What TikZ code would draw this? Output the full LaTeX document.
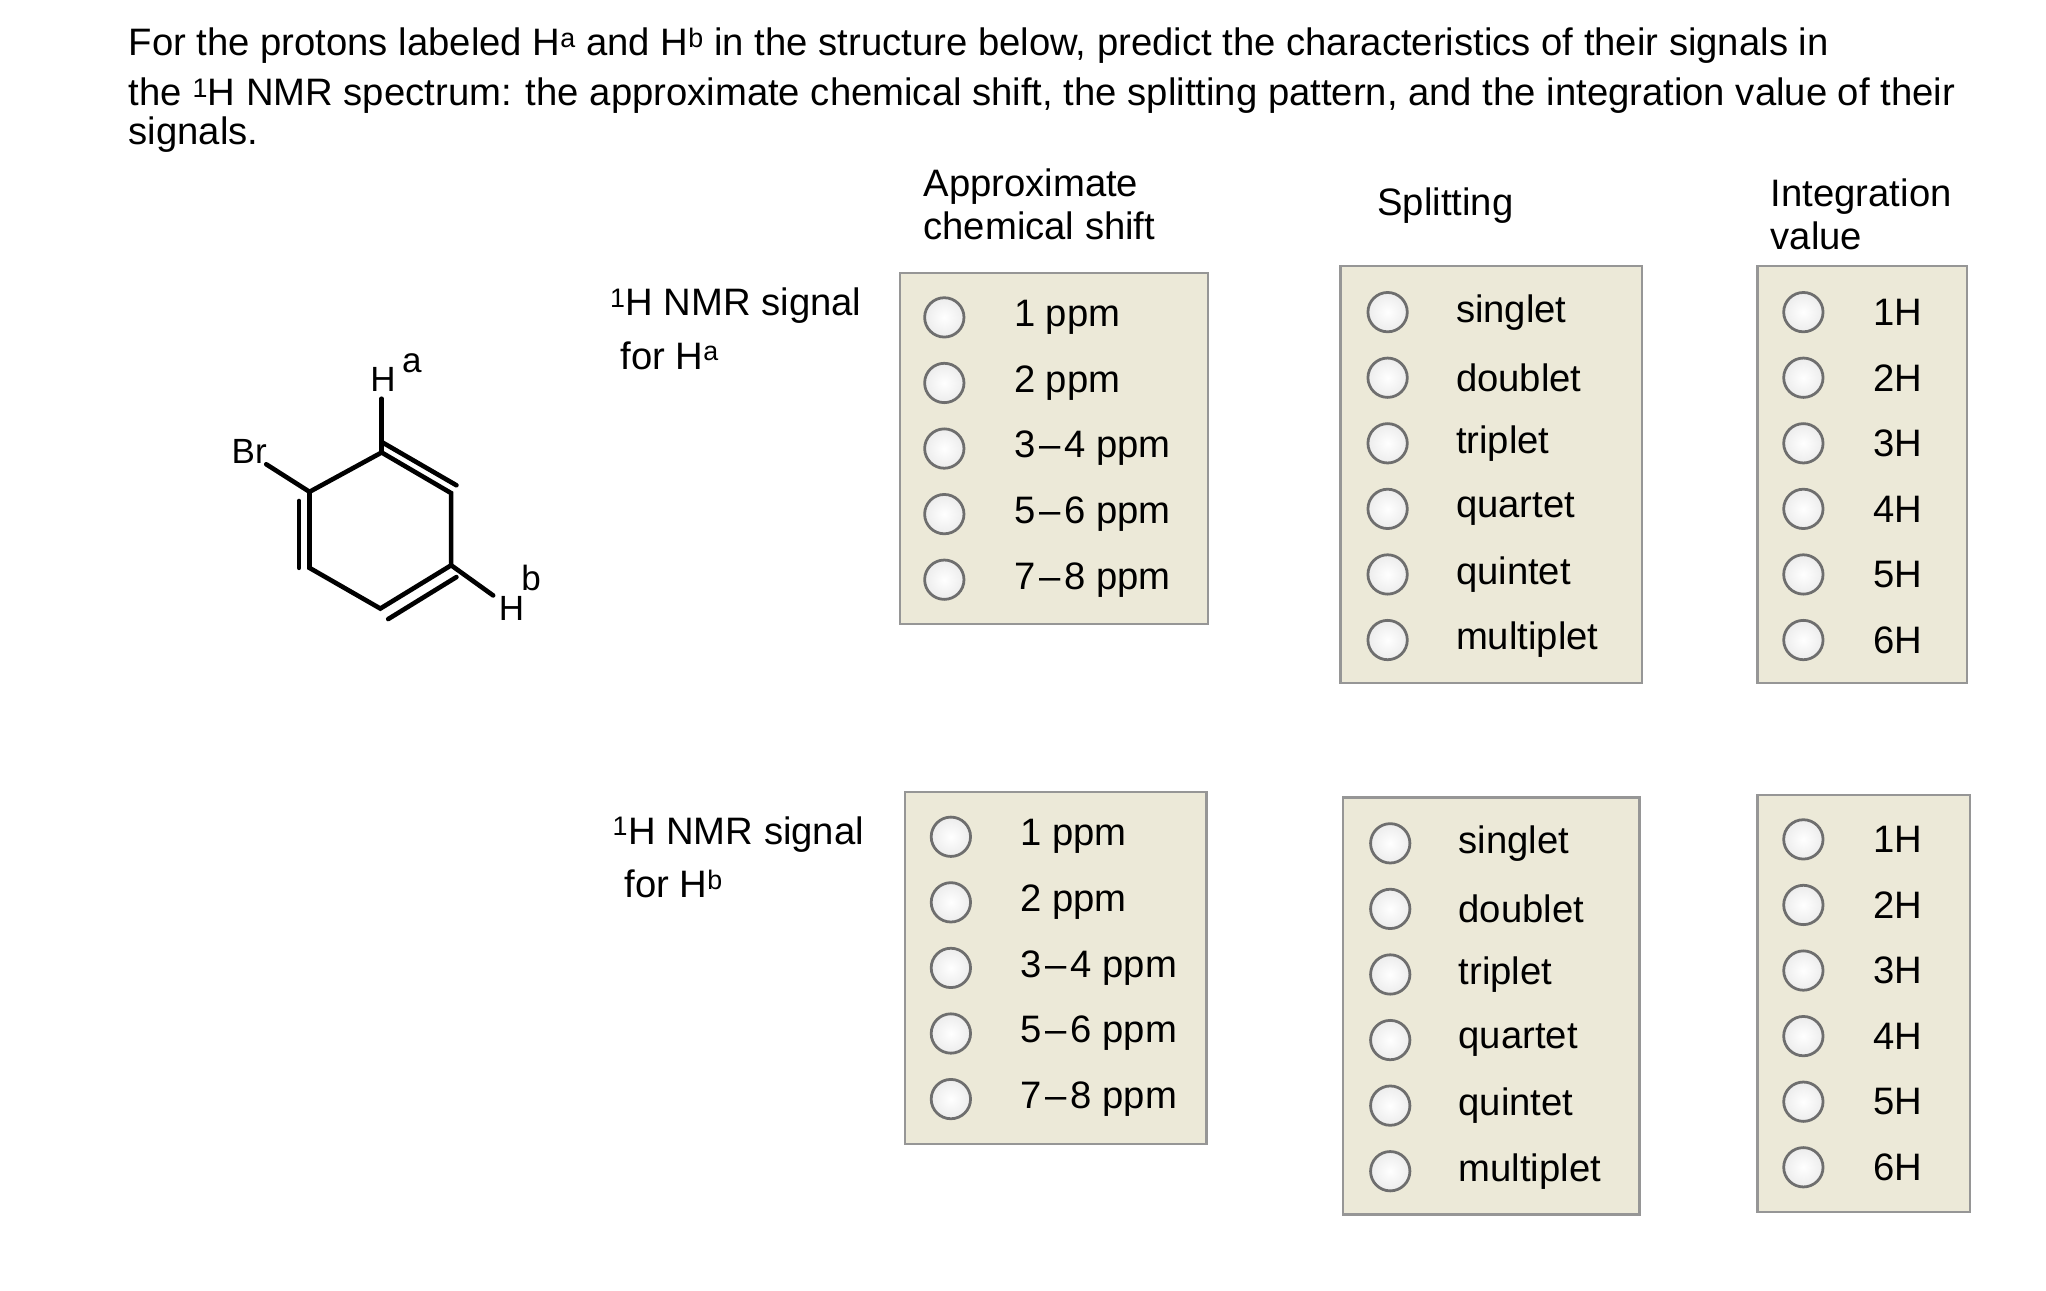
\documentclass[tikz,border=0pt]{standalone}
\usepackage{fontspec}
\setmainfont{Liberation Sans}
\definecolor{boxfill}{RGB}{236,233,216}
\definecolor{boxedge}{RGB}{150,150,150}
\definecolor{radedge}{RGB}{110,110,110}
\begin{document}
\begin{tikzpicture}[x=0.05cm,y=-0.05cm,
  txt/.style={anchor=west,inner sep=0pt,font=\fontsize{41.5}{48}\selectfont},
  panel/.style={draw=boxedge,line width=2.5pt,fill=boxfill},
  radio/.style={circle,draw=radedge,line width=3pt,inner color=white,outer color=gray!15,minimum size=1.5cm,inner sep=0pt},
  bond/.style={line width=5pt,line cap=round},
  mol/.style={inner sep=0pt,font=\fontsize{38}{42}\selectfont}]
\useasboundingbox (0,0) rectangle (1560,983.6);
% title
\node[txt] (t1) at (98,35) {For the protons labeled H\textsuperscript{a} and H\textsuperscript{b} in the structure below, predict the characteristics of their signals in};
\node[txt] (t2) at (98,73) {the \textsuperscript{1}H NMR spectrum: the approximate chemical shift, the splitting pattern, and the integration value of their};
\node[txt] (t3) at (98,103) {signals.};
% headers
\node[txt] (h1) at (704,142) {Approximate};
\node[txt] (h2) at (704,172) {chemical shift};
\node[txt] (h3) at (1050,157) {Splitting};
\node[txt] (h4) at (1350,150) {Integration};
\node[txt] (h5) at (1350,180) {value};
% row labels
\node[txt] (la1) at (465,233) {\textsuperscript{1}H NMR signal};
\node[txt] (la2) at (473,271) {for H\textsuperscript{a}};
\node[txt] (lb1) at (467,636) {\textsuperscript{1}H NMR signal};
\node[txt] (lb2) at (476,674) {for H\textsuperscript{b}};
% panels
\draw[panel] (686,208) rectangle (921,476);
\draw[panel] (1022,203) rectangle (1252,521);
\draw[panel] (1340,203) rectangle (1500,521);
\draw[panel] (690,604) rectangle (920,872);
\draw[panel] (1024,608) rectangle (1250,926);
\draw[panel] (1340,606) rectangle (1502,924);
% shift options
\foreach \t [count=\i from 0] in {1 ppm,2 ppm,3{\kern.1em}–{\kern.1em}4 ppm,5{\kern.1em}–{\kern.1em}6 ppm,7{\kern.1em}–{\kern.1em}8 ppm}{
  \node[radio] (sa\i) at (720,242+50*\i) {};
  \node[txt] (sat\i) at (773,242+50*\i) {\t};
  \node[radio] (sb\i) at (725,638+50*\i) {};
  \node[txt] (sbt\i) at (778,638+50*\i) {\t};
}
\foreach \t [count=\i from 0] in {singlet,doublet,triplet,quartet,quintet,multiplet}{
  \node[radio] (pa\i) at (1058,238+50*\i) {};
  \node[txt] (pat\i) at (1110,238+50*\i) {\t};
  \node[radio] (pb\i) at (1060,643+50*\i) {};
  \node[txt] (pbt\i) at (1112,643+50*\i) {\t};
}
\foreach \t [count=\i from 0] in {1H,2H,3H,4H,5H,6H}{
  \node[radio] (ia\i) at (1375,238+50*\i) {};
  \node[txt] (iat\i) at (1428,238+50*\i) {\t};
  \node[radio] (ib\i) at (1375,640+50*\i) {};
  \node[txt] (ibt\i) at (1428,640+50*\i) {\t};
}
% molecule
\coordinate (r1) at (291,345);
\coordinate (r2) at (344,376);
\coordinate (r3) at (344,431);
\coordinate (r4) at (290,464);
\coordinate (r5) at (236,433);
\coordinate (r6) at (236,375);
\coordinate (ha) at (291,304);
\coordinate (hbb) at (376,454);
\coordinate (brb) at (203,354);
\draw[bond] (r1) -- (r2) -- (r3) -- (r4) -- (r5) -- (r6) -- cycle;
\draw[bond] (r1) -- (ha);
\draw[bond] (r3) -- (hbb);
\draw[bond] (r6) -- (brb);
\draw[bond] (291,337) -- (348,370);
\draw[bond] (228,382) -- (228,433);
\draw[bond] (296,472) -- (348,440);
\node[mol] (brl) at (190,344) {Br};
\node[mol] (hal) at (292,289) {H};
\node[mol] (hasup) at (314,277) {a};
\node[mol] (hbl) at (390,464) {H};
\node[mol] (hbsup) at (405,441) {b};
\end{tikzpicture}
\end{document}
